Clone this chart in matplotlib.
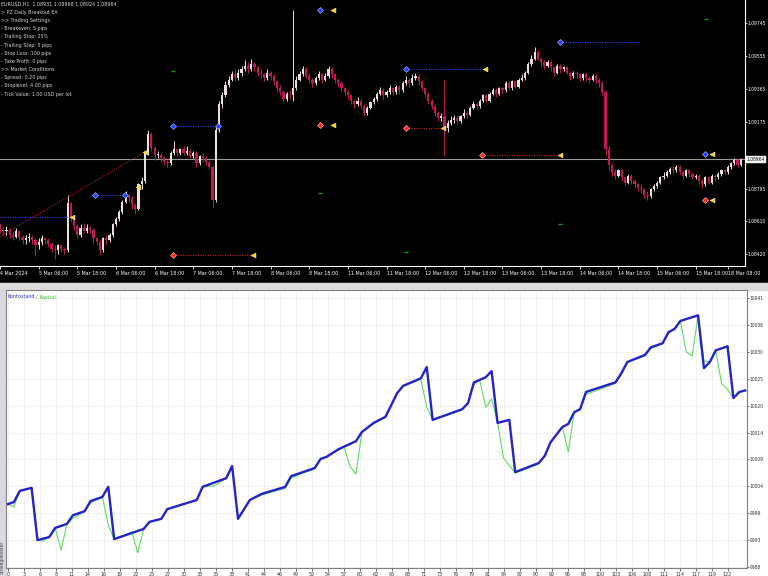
import numpy as np
import matplotlib.pyplot as plt
from matplotlib import font_manager

W, H = 768, 576
BASE = 1.08  # candle prices are stored as pips above 1.0800

# ---- H1 candles (pips above 1.0800) ----
first_open = 58
closes = [56, 55, 56, 53, 52, 55, 52, 50, 51, 52,
          50, 47, 49, 51, 50, 48, 45, 44, 47, 45,
          44, 71, 63, 58, 53, 57, 55, 57, 56, 51,
          49, 44, 51, 50, 53, 59, 62, 66, 72, 75,
          74, 70, 68, 82, 84, 100, 111, 103, 99, 99,
          97, 95, 94, 100, 102, 100, 102, 100, 101, 98,
          100, 94, 98, 97, 95, 92, 73, 113, 128, 133,
          139, 142, 145, 143, 146, 148, 150, 148, 151, 149,
          146, 145, 143, 146, 144, 141, 137, 135, 131, 134,
          133, 137, 142, 145, 148, 144, 142, 140, 143, 145,
          142, 144, 148, 145, 142, 140, 137, 135, 133, 130,
          128, 130, 127, 123, 126, 129, 131, 134, 136, 133,
          135, 137, 135, 138, 136, 140, 142, 140, 143, 144,
          141, 137, 134, 130, 127, 123, 120, 121, 114, 117,
          119, 120, 118, 121, 123, 122, 126, 128, 127, 130,
          133, 130, 134, 136, 134, 137, 136, 140, 137, 141,
          138, 142, 143, 146, 151, 154, 158, 154, 152, 150,
          152, 149, 146, 150, 148, 149, 146, 144, 146, 145,
          143, 145, 143, 142, 144, 142, 140, 135, 102, 93,
          89, 87, 90, 86, 83, 87, 84, 82, 80, 79,
          76, 75, 79, 81, 83, 86, 87, 89, 91, 90,
          92, 89, 87, 90, 88, 86, 87, 84, 82, 86,
          83, 87, 86, 88, 90, 89, 92, 94, 96, 93.1,
          96.4]
highs = [60, 58, 58, 57, 55, 57, 56, 53, 53, 54,
         53, 51, 51, 53, 52, 51, 49, 47, 48, 48,
         46, 76, 72, 64, 59, 59, 60, 59, 58, 57,
         52, 50, 52, 53, 54, 60, 63, 67, 73, 78,
         77, 75, 71, 83, 86, 101, 113, 112, 104, 101,
         100, 98, 96, 101, 107, 103, 103, 104, 104, 102,
         101, 101, 99, 100, 98, 96, 93, 115, 130, 135,
         141, 144, 147, 148, 148, 150, 153, 152, 154, 152,
         150, 148, 146, 148, 147, 145, 142, 139, 136, 135,
         136, 182, 144, 147, 150, 149, 146, 143, 144, 147,
         146, 146, 150, 149, 146, 143, 141, 138, 136, 134,
         131, 132, 131, 128, 127, 130, 132, 135, 138, 137,
         136, 139, 138, 139, 139, 141, 144, 143, 145, 146,
         145, 142, 138, 135, 131, 128, 124, 123, 142, 119,
         121, 122, 121, 122, 125, 124, 127, 130, 129, 131,
         134, 134, 135, 137, 137, 138, 138, 141, 141, 142,
         142, 143, 145, 147, 152, 156, 161, 159, 155, 153,
         153, 153, 150, 151, 151, 150, 150, 147, 147, 147,
         146, 146, 146, 144, 145, 145, 143, 141, 136, 104,
         94, 91, 91, 91, 87, 88, 88, 85, 83, 82,
         80, 78, 80, 82, 84, 87, 89, 90, 92, 93,
         93, 93, 90, 91, 91, 89, 88, 88, 85, 87,
         87, 88, 88, 89, 91, 91, 93, 95, 97, 97,
         96.8]
lows = [54, 53, 53, 51, 50, 51, 50, 48, 48, 49,
        48, 41, 45, 47, 48, 46, 43, 39, 42, 43,
        42, 43, 61, 56, 51, 52, 54, 54, 54, 48,
        47, 42, 43, 48, 49, 52, 58, 61, 65, 71,
        72, 68, 65, 67, 79, 83, 99, 101, 96, 97,
        95, 93, 92, 93, 99, 98, 99, 99, 99, 97,
        97, 92, 93, 95, 93, 91, 69, 72, 112, 126,
        132, 138, 141, 141, 142, 144, 147, 146, 147, 147,
        144, 143, 141, 142, 142, 139, 135, 133, 129, 130,
        131, 130, 136, 141, 144, 143, 140, 138, 139, 142,
        140, 141, 143, 143, 140, 138, 135, 133, 131, 128,
        126, 127, 125, 121, 122, 125, 128, 130, 133, 131,
        132, 134, 133, 134, 134, 135, 139, 138, 139, 142,
        139, 136, 132, 128, 125, 121, 118, 118, 98, 112,
        116, 117, 116, 117, 120, 120, 121, 125, 125, 126,
        129, 129, 129, 133, 132, 133, 134, 135, 136, 136,
        137, 137, 141, 142, 145, 150, 153, 153, 150, 148,
        149, 147, 144, 145, 146, 147, 145, 142, 143, 143,
        141, 142, 141, 140, 141, 140, 138, 133, 99, 90,
        87, 85, 86, 84, 81, 82, 82, 80, 78, 77,
        74, 73, 74, 78, 80, 82, 85, 86, 88, 88,
        89, 88, 85, 86, 86, 85, 85, 82, 80, 81,
        82, 82, 84, 85, 87, 88, 88, 91, 93, 92,
        92.4]
opens = [first_open] + closes[:-1]

time_labels = ["4 Mar 2024", "5 Mar 06:00", "5 Mar 18:00", "6 Mar 06:00", "6 Mar 18:00",
               "7 Mar 06:00", "7 Mar 18:00", "8 Mar 06:00", "8 Mar 18:00", "11 Mar 06:00",
               "11 Mar 18:00", "12 Mar 06:00", "12 Mar 18:00", "13 Mar 06:00", "13 Mar 18:00",
               "14 Mar 06:00", "14 Mar 18:00", "15 Mar 06:00", "15 Mar 18:00", "18 Mar 08:00"]
time_label_bars = [0, 12, 24, 36, 48, 60, 72, 84, 96, 108, 120, 132, 144, 156, 168,
                   180, 192, 204, 216, 226]
price_ticks = [1.08420, 1.08610, 1.08795, 1.09175, 1.09365, 1.09555, 1.09745]
bid = 1.08964

# trade objects drawn by the tester: (bar from, bar to, pips)
buy_lines = [(0, 22.2, 63.4), (29.5, 38.8, 75.9), (53.6, 67.6, 115.4),
             (126, 150.7, 148.1), (174, 198.8, 163.6)]
sell_lines = [(53.6, 78.4, 41.4), (126, 137.4, 114.3), (149.8, 174, 98.8)]
diag_line = [(0, 52), (45, 100.5)]
buy_marks = [(29.5, 75.9), (38.8, 75.9), (53.6, 115.4), (67.6, 115.4), (99.5, 182),
             (126, 148.1), (174, 163.6), (219, 99.4)]
sell_marks = [(53.6, 41.4), (99.5, 116), (126, 114.3), (149.8, 98.8), (219, 73)]
close_marks = [(22.2, 63.4), (43, 80.4), (45, 100.5), (78.4, 41.4), (103.3, 182),
               (103.3, 116), (150.7, 148.1), (137.4, 114.3), (174, 98.8),
               (221.1, 99.4), (221.1, 73)]
green_marks = [(53.6, 147), (99.5, 77), (126, 43), (174, 59.2), (219.2, 177)]

info_lines = ["EURUSD,H1  1.08931 1.08968 1.08924 1.08964",
              "> PZ Daily Breakout EA",
              ">> Trading Settings",
              "- Breakeven: 5 pips",
              "- Trailing Stop: 25%",
              "- Trailing Step: 5 pips",
              "- Stop Loss: 100 pips",
              "- Take Profit: 0 pips",
              ">> Market Conditions",
              "- Spread: 0.20 pips",
              "- Stoplevel: 4.00 pips",
              "- Tick Value: 1.00 USD per lot"]

# ---- tester graph: balance / equity per trade ----
bal_trade = [0, 1, 2, 4, 5, 7, 8, 10, 11, 13, 14, 16, 17, 18, 23, 24, 26, 27, 32, 33,
             37, 38, 39, 41, 43, 47, 48, 52, 53, 54, 56, 59, 60, 62, 64, 66, 67, 70, 71, 72,
             77, 78, 79, 81, 82, 83, 85, 86, 90, 91, 92, 94, 95, 96, 97, 98, 103, 104, 105, 108,
             109, 111, 112, 113, 114, 117, 118, 119, 120, 122, 123, 124, 125]
balance = [10000.4, 10000.8, 10003.0, 10003.6, 9993.3, 9993.9, 9995.7, 9996.5, 9998.2, 9999.0,
           10001.0, 10001.8, 10003.8, 9993.5, 9995.5, 9996.9, 9997.5, 9999.4, 10001.2, 10003.8,
           10005.5, 10007.9, 9997.5, 10001.2, 10002.4, 10003.8, 10005.9, 10007.5, 10009.3, 10009.7,
           10011.2, 10012.8, 10014.6, 10016.4, 10017.6, 10022.3, 10023.7, 10025.2, 10027.4, 10017.0,
           10019.1, 10020.3, 10024.4, 10025.4, 10026.6, 10016.4, 10017.0, 10006.7, 10008.5, 10009.9,
           10012.6, 10015.6, 10016.2, 10018.5, 10019.1, 10022.5, 10024.4, 10026.2, 10028.4, 10029.8,
           10031.3, 10032.1, 10034.3, 10034.9, 10036.5, 10037.6, 10027.2, 10028.4, 10030.7, 10031.5,
           10021.3, 10022.5, 10022.8]
eq_trade = [0, 1, 2, 4, 5, 6, 7, 8, 9, 10, 11, 12, 13, 14, 16, 17, 18, 21, 22, 23,
            24, 26, 27, 32, 33, 35, 37, 38, 39, 41, 43, 47, 48, 50, 52, 53, 54, 56, 57, 58,
            59, 60, 62, 64, 66, 67, 70, 71, 72, 77, 78, 79, 80, 81, 82, 83, 84, 86, 90, 91,
            92, 94, 95, 96, 97, 98, 103, 104, 105, 108, 109, 111, 112, 113, 114, 115, 116, 117, 118, 119,
            120, 121, 122, 123, 124, 125]
equity = [10000.4, 9999.8, 10003.0, 10003.6, 9993.3, 9993.1, 9993.9, 9995.7, 9991.3, 9996.5,
          9997.6, 9998.2, 9999.0, 10000.6, 10001.8, 9996.3, 9993.5, 9994.9, 9990.8, 9995.5,
          9996.9, 9997.5, 9999.4, 10001.2, 10003.8, 10004.0, 10005.5, 10007.9, 9997.5, 10001.2,
          10002.2, 10003.5, 10005.5, 10006.5, 10007.3, 10009.3, 10009.7, 10011.0, 10011.6, 10007.8,
          10006.3, 10014.6, 10016.2, 10017.6, 10022.3, 10023.7, 10025.0, 10019.5, 10017.0, 10018.9,
          10020.3, 10024.0, 10024.8, 10019.5, 10021.1, 10016.6, 10009.5, 10006.5, 10008.3, 10009.9,
          10012.6, 10015.6, 10010.7, 10018.5, 10019.1, 10022.0, 10024.2, 10025.9, 10028.4, 10029.6,
          10031.0, 10032.1, 10034.3, 10034.9, 10036.5, 10030.4, 10029.6, 10037.6, 10028.6, 10028.4,
          10030.7, 10024.1, 10023.0, 10021.3, 10022.5, 10022.8]
trade_tick_labels = [0, 3, 6, 8, 11, 14, 16, 19, 22, 25, 27, 30, 33, 35, 38, 41, 44, 46, 49, 52,
                     54, 57, 60, 62, 65, 68, 71, 73, 76, 79, 81, 84, 87, 90, 92, 95, 98, 100, 103, 106,
                     108, 111, 114, 117, 119, 122]
money_tick_labels = ["9988", "9993", "9999", "10004", "10009", "10014", "10020", "10025",
                     "10030", "10036", "10041"]

# narrow font like the terminal's, whichever is installed
_fonts = font_manager.fontManager.ttflist
if any(f.name == "Liberation Sans Narrow" for f in _fonts):
    FONT, STRETCH = "Liberation Sans Narrow", "normal"
elif any(f.name == "DejaVu Sans" and str(f.stretch) == "condensed" for f in _fonts):
    FONT, STRETCH = "DejaVu Sans", "condensed"
else:
    FONT, STRETCH = "Liberation Sans", "normal"
plt.rcParams["font.family"] = FONT
plt.rcParams["font.stretch"] = STRETCH
FS = 3.9        # axis labels
FS_Y = 3.6      # price / money labels on the right edge
FS_INFO = 3.9   # comment block top-left


def box(x0, y0, x1, y1):
    # pixel box (from top-left) -> figure fraction rect
    return [x0 / W, 1 - y1 / H, (x1 - x0) / W, (y1 - y0) / H]


def price(p):
    return BASE + np.asarray(p, dtype=float) / 10000


fig = plt.figure(figsize=(W / 100, H / 100), dpi=100, facecolor="white")

# background bands
bg = fig.add_axes([0, 0, 1, 1])
bg.set_xlim(0, W)
bg.set_ylim(H, 0)
bg.axis("off")
bg.add_patch(plt.Rectangle((0, 0), W, 283, color="black"))
bg.add_patch(plt.Rectangle((0, 283), W, 7, color="#dcdcdc"))
bg.add_patch(plt.Rectangle((0, 290), 6, 286, color="#d8d8e0"))
bg.text(2.5, 574, "Strategietester", rotation=90, fontsize=3.5, color="#404040",
        ha="center", va="bottom")

# ---- candle chart ----
ax = fig.add_axes(box(0, 0, 745, 266), facecolor="black")
n = len(closes)
xs = np.arange(n)
o = price(opens)
c = price(closes)
hi = price(highs)
lo = price(lows)
up = c >= o
bull, bear = "#ecdede", "#c8145a"
cols = np.where(up, bull, bear)
ax.vlines(xs, lo, hi, colors=cols, lw=0.7, zorder=2)
body_h = np.maximum(np.abs(c - o), 0.00003)
ax.bar(xs, body_h, bottom=np.minimum(o, c), width=0.68, color=cols, lw=0, zorder=3)

ax.axhline(bid, color="#9a9a9a", lw=0.8, zorder=1)

dot = (0, (1, 1.2))
for a, b, p in buy_lines:
    ax.plot([a, b], price([p, p]), color="#2848ff", lw=0.8, ls=dot, zorder=4)
for a, b, p in sell_lines:
    ax.plot([a, b], price([p, p]), color="#d02030", lw=0.8, ls=dot, zorder=4)
ax.plot([q[0] for q in diag_line], price([q[1] for q in diag_line]), color="#c01828",
        lw=0.8, ls=dot, zorder=4)
ax.plot([q[0] for q in buy_marks], price([q[1] for q in buy_marks]), "D", ms=3,
        mfc="#2040ff", mec="#9fb0ff", mew=0.5, ls="none", zorder=5)
ax.plot([q[0] for q in sell_marks], price([q[1] for q in sell_marks]), "D", ms=3,
        mfc="#ff2020", mec="#ffb0a0", mew=0.5, ls="none", zorder=5)
ax.plot([q[0] for q in close_marks], price([q[1] for q in close_marks]), "<", ms=3.5,
        mfc="#ffd21e", mec="#fff0a0", mew=0.4, ls="none", zorder=5)
ax.plot([q[0] for q in green_marks], price([q[1] for q in green_marks]), "_", ms=3,
        color="#10a010", ls="none", zorder=5)

ax.set_xlim(0.31, 231.3)
ax.set_ylim(1.08351, 1.09877)
for s in ["top", "left"]:
    ax.spines[s].set_visible(False)
for s in ["right", "bottom"]:
    ax.spines[s].set_color("white")
    ax.spines[s].set_linewidth(0.8)
ax.yaxis.tick_right()
ax.set_yticks(price_ticks)
ax.set_yticklabels([f"{v:.5f}" for v in price_ticks])
ax.set_xticks(time_label_bars)
ax.set_xticklabels(time_labels)
ax.tick_params(colors="white", labelsize=FS, length=2.5, width=0.6, pad=1.0)
ax.tick_params(axis="y", labelsize=FS_Y, length=1.5, pad=0.6)
for lab in ax.get_xticklabels():
    lab.set_horizontalalignment("left")
ax.text(1.002, (bid - 1.08351) / (1.09877 - 1.08351), f"{bid:.5f}", transform=ax.transAxes,
        fontsize=FS_Y, color="black", va="center", ha="left",
        bbox=dict(boxstyle="square,pad=0.1", fc="white", ec="white"))

for i, line in enumerate(info_lines):
    fig.text(1 / W, 1 - (4 + 8.2 * i) / H, line, fontsize=FS_INFO, color="#d8d8d8",
             va="center", ha="left")

# ---- balance / equity graph ----
ax2 = fig.add_axes(box(6, 290, 747, 568), facecolor="white")
ax2.plot(eq_trade, equity, color="#5fdc5f", lw=0.8, zorder=3)
ax2.plot(bal_trade, balance, color="#2323c8", lw=1.7, zorder=4)
ax2.set_xlim(-0.34, 125.3)
ax2.set_ylim(9987.8, 10042.6)
ax2.set_xticks(np.linspace(0, 122, len(trade_tick_labels)))
ax2.set_xticklabels([str(t) for t in trade_tick_labels])
ax2.set_yticks(np.linspace(9988, 10041, len(money_tick_labels)))
ax2.set_yticklabels(money_tick_labels)
ax2.yaxis.tick_right()
ax2.tick_params(colors="#303030", labelsize=FS, length=2, width=0.5, pad=0.8)
ax2.tick_params(axis="y", labelsize=FS_Y, length=1.5, pad=0.6)
ax2.grid(True, color="#c8c8c8", lw=0.5, ls=(0, (1, 2)))
for s in ax2.spines.values():
    s.set_color("#808080")
    s.set_linewidth(0.8)
# legend written as in the tester, pixel positions
for txt, px, col in [("Kontostand", 8, "#3030c0"), ("/", 36.5, "#808080"), ("Kapital", 40, "#30c030")]:
    fig.text(px / W, 1 - 297 / H, txt, fontsize=FS, color=col, va="center", ha="left")

fig.savefig("out.png", dpi=100, facecolor=fig.get_facecolor())
